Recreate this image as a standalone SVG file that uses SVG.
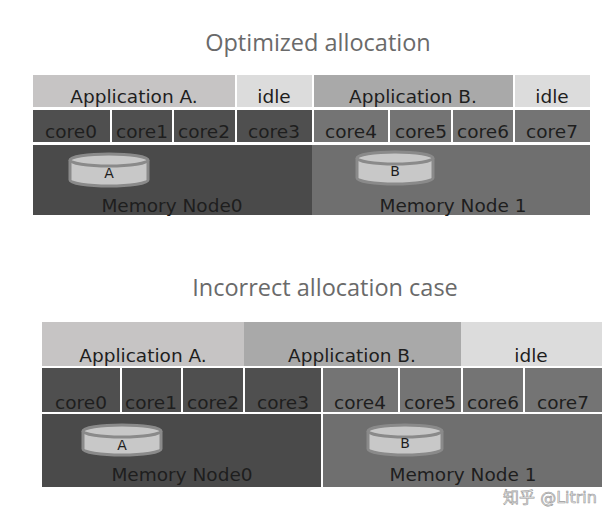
<svg xmlns="http://www.w3.org/2000/svg" width="615" height="513" viewBox="0 0 615 513">
<style>
text{font-family:"DejaVu Sans","Noto Sans CJK SC",sans-serif;fill:#1e1e1e;text-anchor:middle}
.t{font-size:23.5px;fill:#6a6a6a;font-family:"Open Sans","Liberation Sans",sans-serif}
.l{font-size:18.5px}
.s{font-size:14px}
.aa{fill:#c6c4c4}.ab{fill:#a9a9a9}.id{fill:#dcdcdc}
.cl{fill:#4f4f4f}.cr{fill:#747474}.ml{fill:#4a4a4a}.mr{fill:#6f6f6f}
.cy{fill:#c8c8c8;stroke:#8a8a8a;stroke-width:3}
</style>
<rect width="615" height="513" fill="#fff"/>
<text class="t" x="318" y="51">Optimized allocation</text>
<g id="top">
<rect class="aa" x="33" y="75" width="202" height="32"/><text class="l" x="134" y="103">Application A.</text>
<rect class="id" x="237" y="75" width="75" height="32"/><text class="l" x="274" y="103">idle</text>
<rect class="ab" x="314" y="75" width="199" height="32"/><text class="l" x="413" y="103">Application B.</text>
<rect class="id" x="515" y="75" width="75" height="32"/><text class="l" x="552" y="103">idle</text>
<rect class="cl" x="33" y="110" width="77" height="32"/><text class="l" x="71" y="138">core0</text>
<rect class="cl" x="112" y="110" width="60" height="32"/><text class="l" x="142" y="138">core1</text>
<rect class="cl" x="174" y="110" width="61" height="32"/><text class="l" x="204" y="138">core2</text>
<rect class="cl" x="237" y="110" width="75" height="32"/><text class="l" x="274" y="138">core3</text>
<rect class="cr" x="314" y="110" width="74" height="32"/><text class="l" x="351" y="138">core4</text>
<rect class="cr" x="390" y="110" width="61" height="32"/><text class="l" x="421" y="138">core5</text>
<rect class="cr" x="453" y="110" width="60" height="32"/><text class="l" x="483" y="138">core6</text>
<rect class="cr" x="515" y="110" width="75" height="32"/><text class="l" x="552" y="138">core7</text>
<rect class="ml" x="33" y="145" width="279" height="70"/>
<rect class="mr" x="312" y="145" width="278" height="70"/>
<path class="cy" d="M70,160 v20 a39,6 0 0 0 78,0 v-20"/><ellipse class="cy" cx="109" cy="160" rx="39" ry="6"/>
<text class="s" x="109" y="178">A</text>
<text class="l" x="172" y="212">Memory Node0</text>
<path class="cy" d="M357,158 v20 a38,6 0 0 0 76,0 v-20"/><ellipse class="cy" cx="395" cy="158" rx="38" ry="6"/>
<text class="s" x="395" y="176">B</text>
<text class="l" x="453" y="212">Memory Node 1</text>
</g>
<text class="t" x="325" y="296">Incorrect allocation case</text>
<g id="bottom">
<rect class="aa" x="42" y="322" width="202" height="44"/><text class="l" x="143" y="362">Application A.</text>
<rect class="ab" x="244" y="322" width="217" height="44"/><text class="l" x="352" y="362">Application B.</text>
<rect class="id" x="461" y="322" width="141" height="44"/><text class="l" x="531" y="362">idle</text>
<rect class="cl" x="42" y="368" width="78" height="44"/><text class="l" x="81" y="409">core0</text>
<rect class="cl" x="122" y="368" width="59" height="44"/><text class="l" x="151" y="409">core1</text>
<rect class="cl" x="183" y="368" width="60" height="44"/><text class="l" x="213" y="409">core2</text>
<rect class="cl" x="245" y="368" width="76" height="44"/><text class="l" x="283" y="409">core3</text>
<rect class="cr" x="323" y="368" width="75" height="44"/><text class="l" x="360" y="409">core4</text>
<rect class="cr" x="400" y="368" width="61" height="44"/><text class="l" x="430" y="409">core5</text>
<rect class="cr" x="463" y="368" width="60" height="44"/><text class="l" x="493" y="409">core6</text>
<rect class="cr" x="525" y="368" width="77" height="44"/><text class="l" x="563" y="409">core7</text>
<rect class="ml" x="42" y="414" width="279" height="73"/>
<rect class="mr" x="323" y="414" width="279" height="73"/>
<path class="cy" d="M83,431 v18 a39,6 0 0 0 78,0 v-18"/><ellipse class="cy" cx="122" cy="431" rx="39" ry="6"/>
<text class="s" x="122" y="450">A</text>
<text class="l" x="182" y="481">Memory Node0</text>
<path class="cy" d="M368,431 v18 a37,6 0 0 0 74,0 v-18"/><ellipse class="cy" cx="405" cy="431" rx="37" ry="6"/>
<text class="s" x="405" y="448">B</text>
<text class="l" x="463" y="481">Memory Node 1</text>
</g>
<text x="550" y="503" style="font-size:16px;fill:#e8e8e8;stroke:#9a9a9a;stroke-width:0.6">知乎 @Litrin</text>
</svg>
